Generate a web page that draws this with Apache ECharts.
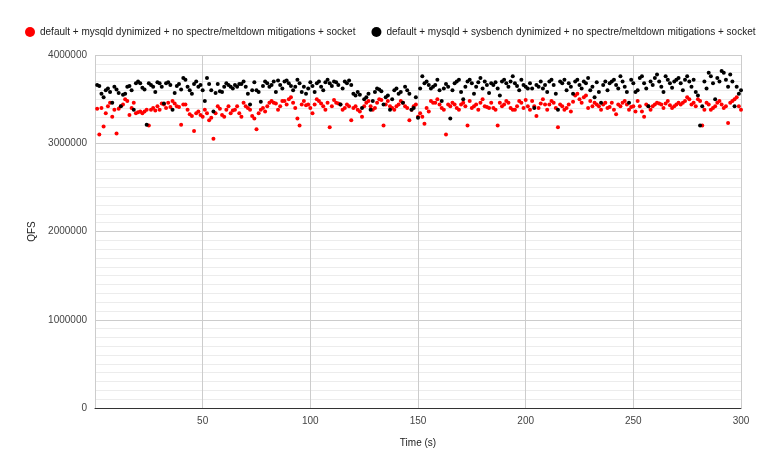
<!DOCTYPE html>
<html><head><meta charset="utf-8">
<script src="https://cdn.jsdelivr.net/npm/echarts@6/dist/echarts.min.js"></script>
<style>html,body{margin:0;background:#fff}#c{width:768px;height:475px}</style>
</head><body><div id="c"></div>
<script>
// QPS in thousands, one value per second (1..300)
const blackK = [
3660,3650,3560,3520,3600,3620,3580,3460,3640,3610,3570,3420,3550,3560,3640,3650,3600,3380,3680,3700,3680,3630,3610,3210,3680,
3660,3640,3580,3690,3680,3640,3450,3680,3690,3660,3380,3570,3650,3670,3610,3740,3720,3640,3600,3560,3670,3700,3640,3660,3600,
3480,3740,3670,3600,3360,3570,3670,3590,3580,3640,3680,3660,3640,3620,3660,3640,3670,3670,3700,3640,3560,3440,3600,3690,3600,
3580,3470,3650,3700,3680,3640,3660,3700,3580,3710,3660,3620,3700,3710,3680,3650,3600,3640,3720,3680,3580,3640,3560,3620,3690,
3650,3580,3680,3700,3640,3600,3690,3720,3680,3650,3700,3690,3660,3440,3620,3700,3680,3710,3660,3560,3540,3580,3550,3400,3500,
3520,3560,3380,3480,3580,3620,3610,3590,3440,3520,3540,3380,3500,3600,3620,3560,3580,3460,3640,3600,3560,3380,3400,3520,3290,
3620,3760,3680,3700,3660,3620,3640,3660,3720,3600,3480,3620,3670,3640,3280,3600,3680,3700,3720,3580,3500,3640,3700,3720,3680,
3560,3640,3690,3740,3620,3700,3660,3570,3680,3660,3690,3620,3540,3700,3720,3680,3640,3700,3760,3680,3650,3600,3720,3660,3640,
3620,3680,3620,3400,3660,3640,3700,3620,3660,3580,3700,3720,3660,3560,3380,3700,3680,3720,3600,3680,3640,3560,3700,3720,3660,
3620,3700,3680,3740,3600,3640,3520,3690,3580,3460,3660,3700,3600,3680,3700,3720,3660,3620,3760,3700,3640,3580,3460,3720,3680,
3580,3600,3740,3760,3680,3620,3420,3700,3660,3740,3780,3700,3640,3580,3760,3720,3680,3630,3700,3720,3740,3680,3600,3720,3760,
3700,3640,3720,3580,3540,3200,3420,3700,3620,3800,3760,3680,3500,3740,3700,3820,3800,3720,3640,3780,3700,3420,3640,3560,3600
];
const redK = [
3390,3100,3400,3190,3340,3420,3460,3300,3380,3110,3390,3420,3440,3500,3480,3320,3400,3460,3340,3350,3360,3340,3360,3380,3200,
3380,3400,3370,3420,3380,3450,3440,3400,3460,3410,3480,3450,3420,3410,3210,3440,3440,3380,3330,3310,3140,3340,3360,3320,3300,
3380,3340,3260,3290,3050,3340,3420,3390,3320,3300,3380,3420,3340,3370,3380,3420,3340,3300,3460,3420,3400,3380,3310,3280,3160,
3340,3380,3400,3360,3420,3460,3480,3460,3450,3380,3420,3480,3480,3440,3500,3520,3460,3400,3280,3200,3440,3480,3430,3440,3400,
3340,3440,3500,3480,3450,3420,3380,3460,3180,3420,3490,3460,3450,3440,3380,3400,3440,3420,3260,3400,3420,3380,3360,3300,3420,
3460,3480,3420,3380,3400,3460,3500,3490,3200,3440,3480,3420,3400,3380,3420,3440,3480,3460,3420,3400,3260,3380,3420,3440,3300,
3340,3300,3220,3400,3360,3480,3460,3460,3500,3440,3400,3380,3100,3440,3420,3460,3440,3400,3380,3440,3460,3420,3200,3480,3400,
3420,3440,3380,3460,3500,3420,3410,3400,3460,3400,3380,3200,3460,3420,3440,3480,3460,3400,3380,3380,3420,3480,3460,3400,3490,
3420,3380,3480,3420,3310,3400,3450,3500,3440,3380,3440,3480,3460,3400,3180,3440,3420,3380,3400,3440,3360,3470,3540,3560,3500,
3460,3520,3540,3400,3480,3420,3460,3440,3420,3380,3440,3460,3400,3410,3460,3380,3330,3440,3420,3460,3480,3440,3380,3410,3420,
3360,3480,3420,3360,3300,3440,3420,3380,3420,3440,3460,3450,3440,3400,3450,3480,3430,3400,3420,3440,3460,3440,3460,3480,3520,
3500,3440,3460,3420,3500,3480,3200,3380,3460,3440,3380,3400,3420,3460,3480,3440,3400,3420,3230,3460,3480,3500,3520,3420,3380
];
const seriesNames = [
  'default + mysqld dynimized + no spectre/meltdown mitigations + socket',
  'default + mysqld + sysbench dynimized + no spectre/meltdown mitigations + socket'
];
const toPts = a => a.map((v, i) => [i + 1, v * 1000]);

const chart = echarts.init(document.getElementById('c'));
chart.setOption({
  animation: false,
  textStyle: {fontFamily: '"Liberation Sans", Arial, sans-serif'},
  legend: {
    top: 22, left: 20, width: 748, itemGap: 16, itemWidth: 10, itemHeight: 10,
    textStyle: {fontSize: 10, color: '#222'},
    data: [{name: seriesNames[0], icon: 'circle'}, {name: seriesNames[1], icon: 'circle'}]
  },
  grid: {left: 95, right: 27, top: 55, bottom: 67},
  xAxis: {
    type: 'value', min: 0, max: 300, interval: 50,
    name: 'Time (s)', nameLocation: 'middle', nameGap: 30,
    nameTextStyle: {fontSize: 10, color: '#222'},
    axisLine: {lineStyle: {color: '#333'}}, axisTick: {show: false},
    axisLabel: {showMinLabel: false, fontSize: 10, color: '#444'},
    splitLine: {lineStyle: {color: '#ccc'}}
  },
  yAxis: {
    type: 'value', min: 0, max: 4000000, interval: 1000000,
    name: 'QFS', nameLocation: 'middle', nameGap: 58,
    nameTextStyle: {fontSize: 10, color: '#222'},
    axisLine: {show: false}, axisTick: {show: false},
    axisLabel: {fontSize: 10, color: '#444', formatter: v => String(v)},
    splitLine: {lineStyle: {color: '#ccc'}},
    minorTick: {show: false, splitNumber: 10},
    minorSplitLine: {show: true, lineStyle: {color: '#ececec'}}
  },
  series: [
    {name: seriesNames[0], type: 'scatter', symbolSize: 4, itemStyle: {color: '#ff0000', opacity: 1}, data: toPts(redK)},
    {name: seriesNames[1], type: 'scatter', symbolSize: 4, itemStyle: {color: '#000000', opacity: 1}, data: toPts(blackK)}
  ]
});
</script></body></html>
